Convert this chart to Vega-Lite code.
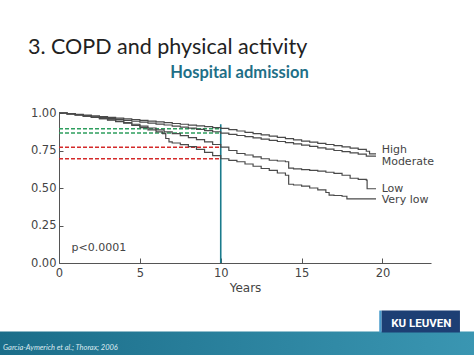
{
  "$schema": "https://vega.github.io/schema/vega-lite/v6.json",
  "width": 372,
  "height": 150,
  "autosize": "none",
  "padding": {"left": 59, "top": 113, "right": 43, "bottom": 92},
  "background": "white",
  "config": {"view": {"stroke": null}, "font": "DejaVu Sans"},
  "title": {
    "text": "3. COPD and physical activity",
    "anchor": "start",
    "frame": "group",
    "dx": -31,
    "offset": -10,
    "baseline": "alphabetic",
    "font": "Lato",
    "fontSize": 21.5,
    "fontWeight": "normal",
    "color": "#222222"
  },
  "datasets": {
    "km": [
      {"g":"High","t":0,"s":1},{"g":"High","t":0.5,"s":0.996},{"g":"High","t":1,"s":0.991},{"g":"High","t":1.5,"s":0.986},{"g":"High","t":2,"s":0.981},{"g":"High","t":2.5,"s":0.976},{"g":"High","t":3,"s":0.971},{"g":"High","t":3.5,"s":0.966},{"g":"High","t":4,"s":0.961},{"g":"High","t":4.5,"s":0.956},{"g":"High","t":5,"s":0.951},{"g":"High","t":5.5,"s":0.946},{"g":"High","t":6,"s":0.941},{"g":"High","t":6.5,"s":0.936},{"g":"High","t":7,"s":0.93},{"g":"High","t":7.5,"s":0.925},{"g":"High","t":8,"s":0.919},{"g":"High","t":8.5,"s":0.914},{"g":"High","t":9,"s":0.909},{"g":"High","t":9.5,"s":0.903},{"g":"High","t":10,"s":0.897},{"g":"High","t":10.5,"s":0.889},{"g":"High","t":11,"s":0.88},{"g":"High","t":11.5,"s":0.871},{"g":"High","t":12,"s":0.862},{"g":"High","t":12.5,"s":0.854},{"g":"High","t":13,"s":0.846},{"g":"High","t":13.5,"s":0.838},{"g":"High","t":14,"s":0.829},{"g":"High","t":14.5,"s":0.821},{"g":"High","t":15,"s":0.813},{"g":"High","t":15.5,"s":0.806},{"g":"High","t":16,"s":0.798},{"g":"High","t":16.5,"s":0.79},{"g":"High","t":17,"s":0.782},{"g":"High","t":17.5,"s":0.774},{"g":"High","t":18,"s":0.766},{"g":"High","t":18.5,"s":0.757},{"g":"High","t":19,"s":0.745},{"g":"High","t":19.2,"s":0.728},{"g":"High","t":19.6,"s":0.728},
      {"g":"Moderate","t":0,"s":1},{"g":"Moderate","t":0.5,"s":0.994},{"g":"Moderate","t":1,"s":0.988},{"g":"Moderate","t":1.5,"s":0.981},{"g":"Moderate","t":2,"s":0.975},{"g":"Moderate","t":2.5,"s":0.969},{"g":"Moderate","t":3,"s":0.963},{"g":"Moderate","t":3.5,"s":0.957},{"g":"Moderate","t":4,"s":0.951},{"g":"Moderate","t":4.5,"s":0.945},{"g":"Moderate","t":5,"s":0.939},{"g":"Moderate","t":5.5,"s":0.933},{"g":"Moderate","t":6,"s":0.926},{"g":"Moderate","t":6.5,"s":0.92},{"g":"Moderate","t":7,"s":0.913},{"g":"Moderate","t":7.5,"s":0.906},{"g":"Moderate","t":8,"s":0.899},{"g":"Moderate","t":8.5,"s":0.891},{"g":"Moderate","t":9,"s":0.883},{"g":"Moderate","t":9.5,"s":0.875},{"g":"Moderate","t":10,"s":0.866},{"g":"Moderate","t":10.5,"s":0.858},{"g":"Moderate","t":11,"s":0.85},{"g":"Moderate","t":11.5,"s":0.842},{"g":"Moderate","t":12,"s":0.834},{"g":"Moderate","t":12.5,"s":0.826},{"g":"Moderate","t":13,"s":0.818},{"g":"Moderate","t":13.5,"s":0.81},{"g":"Moderate","t":14,"s":0.802},{"g":"Moderate","t":14.5,"s":0.794},{"g":"Moderate","t":15,"s":0.786},{"g":"Moderate","t":15.5,"s":0.777},{"g":"Moderate","t":16,"s":0.768},{"g":"Moderate","t":16.5,"s":0.759},{"g":"Moderate","t":17,"s":0.75},{"g":"Moderate","t":17.5,"s":0.742},{"g":"Moderate","t":18,"s":0.734},{"g":"Moderate","t":18.5,"s":0.726},{"g":"Moderate","t":19,"s":0.712},{"g":"Moderate","t":19.6,"s":0.712},
      {"g":"Low","t":0,"s":1},{"g":"Low","t":0.5,"s":0.994},{"g":"Low","t":1,"s":0.987},{"g":"Low","t":1.5,"s":0.979},{"g":"Low","t":2,"s":0.971},{"g":"Low","t":2.5,"s":0.963},{"g":"Low","t":3,"s":0.955},{"g":"Low","t":3.5,"s":0.946},{"g":"Low","t":4,"s":0.936},{"g":"Low","t":4.5,"s":0.925},{"g":"Low","t":5,"s":0.913},{"g":"Low","t":5.5,"s":0.9},{"g":"Low","t":6,"s":0.887},{"g":"Low","t":6.5,"s":0.874},{"g":"Low","t":7,"s":0.862},{"g":"Low","t":7.5,"s":0.849},{"g":"Low","t":8,"s":0.836},{"g":"Low","t":8.5,"s":0.822},{"g":"Low","t":9,"s":0.807},{"g":"Low","t":9.5,"s":0.79},{"g":"Low","t":10,"s":0.772},{"g":"Low","t":10.5,"s":0.75},{"g":"Low","t":11,"s":0.73},{"g":"Low","t":11.5,"s":0.72},{"g":"Low","t":12,"s":0.708},{"g":"Low","t":12.5,"s":0.695},{"g":"Low","t":13,"s":0.685},{"g":"Low","t":13.5,"s":0.68},{"g":"Low","t":14,"s":0.675},{"g":"Low","t":14.2,"s":0.633},{"g":"Low","t":14.5,"s":0.628},{"g":"Low","t":15,"s":0.622},{"g":"Low","t":15.5,"s":0.617},{"g":"Low","t":16,"s":0.612},{"g":"Low","t":16.5,"s":0.605},{"g":"Low","t":17,"s":0.598},{"g":"Low","t":17.5,"s":0.585},{"g":"Low","t":18,"s":0.565},{"g":"Low","t":18.5,"s":0.558},{"g":"Low","t":19,"s":0.553},{"g":"Low","t":19.05,"s":0.495},{"g":"Low","t":19.6,"s":0.495},
      {"g":"Very low","t":0,"s":1},{"g":"Very low","t":0.5,"s":0.994},{"g":"Very low","t":1,"s":0.987},{"g":"Very low","t":1.5,"s":0.979},{"g":"Very low","t":2,"s":0.971},{"g":"Very low","t":2.5,"s":0.962},{"g":"Very low","t":3,"s":0.953},{"g":"Very low","t":3.5,"s":0.943},{"g":"Very low","t":4,"s":0.932},{"g":"Very low","t":4.5,"s":0.918},{"g":"Very low","t":5,"s":0.903},{"g":"Very low","t":5.5,"s":0.888},{"g":"Very low","t":6,"s":0.874},{"g":"Very low","t":6.4,"s":0.862},{"g":"Very low","t":6.6,"s":0.83},{"g":"Very low","t":6.8,"s":0.808},{"g":"Very low","t":7,"s":0.8},{"g":"Very low","t":7.5,"s":0.789},{"g":"Very low","t":8,"s":0.776},{"g":"Very low","t":8.5,"s":0.758},{"g":"Very low","t":9,"s":0.738},{"g":"Very low","t":9.5,"s":0.716},{"g":"Very low","t":10,"s":0.695},{"g":"Very low","t":10.5,"s":0.684},{"g":"Very low","t":11,"s":0.675},{"g":"Very low","t":11.5,"s":0.66},{"g":"Very low","t":12,"s":0.645},{"g":"Very low","t":12.5,"s":0.63},{"g":"Very low","t":13,"s":0.618},{"g":"Very low","t":13.5,"s":0.6},{"g":"Very low","t":14,"s":0.585},{"g":"Very low","t":14.2,"s":0.525},{"g":"Very low","t":14.5,"s":0.52},{"g":"Very low","t":15,"s":0.512},{"g":"Very low","t":15.5,"s":0.5},{"g":"Very low","t":16,"s":0.487},{"g":"Very low","t":16.5,"s":0.47},{"g":"Very low","t":16.7,"s":0.453},{"g":"Very low","t":17,"s":0.45},{"g":"Very low","t":17.5,"s":0.445},{"g":"Very low","t":17.8,"s":0.428},{"g":"Very low","t":19.6,"s":0.428}
    ],
    "ref": [
      {"g":"High","t":0,"t2":10,"s":0.895},
      {"g":"Moderate","t":0,"t2":10,"s":0.866},
      {"g":"Low","t":0,"t2":10,"s":0.772},
      {"g":"Very low","t":0,"t2":10,"s":0.695}
    ],
    "lab": [
      {"g":"High","t":19.95,"s":0.752},
      {"g":"Moderate","t":19.95,"s":0.672},
      {"g":"Low","t":19.95,"s":0.495},
      {"g":"Very low","t":19.95,"s":0.418}
    ],
    "one": [{}]
  },
  "layer": [
    {
      "data": {"name": "ref"},
      "mark": {"type": "rule", "strokeDash": [4, 2], "strokeWidth": 1.5},
      "encoding": {
        "x": {"field": "t", "type": "quantitative",
          "scale": {"domain": [0, 23], "nice": false, "zero": false},
          "axis": {"values": [0, 5, 10, 15, 20], "tickCount": 10, "grid": false, "tickSize": -5, "tickColor": "#555555",
            "domainColor": "#555555", "labelFont": "DejaVu Sans", "labelFontSize": 11.5, "labelColor": "#444444",
            "labelPadding": 9, "labelOverlap": false, "title": "Years", "titleFont": "DejaVu Sans", "titleFontSize": 12, "titleFontWeight": "normal",
            "titleColor": "#444444", "titlePadding": 4, "labelFlush": false}},
        "x2": {"field": "t2"},
        "y": {"field": "s", "type": "quantitative",
          "scale": {"domain": [0, 1], "nice": false},
          "axis": {"values": [0, 0.25, 0.5, 0.75, 1], "tickCount": 10, "format": ".2f", "grid": false, "tickSize": -4, "tickColor": "#555555",
            "domainColor": "#555555", "labelFont": "DejaVu Sans", "labelFontSize": 11.5, "labelColor": "#444444",
            "labelPadding": 7, "labelOverlap": false, "title": null, "labelFlush": false}},
        "color": {"field": "g", "type": "nominal",
          "scale": {"domain": ["High", "Moderate", "Low", "Very low"], "range": ["#2e9e5e", "#2e9e5e", "#d42a2a", "#d42a2a"]},
          "legend": null}
      }
    },
    {
      "data": {"name": "one"},
      "mark": {"type": "rule", "color": "#1a7b8c", "strokeWidth": 1.6},
      "encoding": {
        "x": {"datum": 10, "type": "quantitative"},
        "y": {"datum": 0, "type": "quantitative"},
        "y2": {"datum": 0.925}
      }
    },
    {
      "data": {"name": "km"},
      "mark": {"type": "line", "interpolate": "step-after", "color": "#4a4a4a", "strokeWidth": 1.2},
      "encoding": {
        "x": {"field": "t", "type": "quantitative"},
        "y": {"field": "s", "type": "quantitative"},
        "detail": {"field": "g", "type": "nominal"}
      }
    },
    {
      "data": {"name": "lab"},
      "mark": {"type": "text", "align": "left", "baseline": "middle", "font": "DejaVu Sans", "fontSize": 11, "color": "#444444"},
      "encoding": {
        "x": {"field": "t", "type": "quantitative"},
        "y": {"field": "s", "type": "quantitative"},
        "text": {"field": "g"}
      }
    },
    {
      "data": {"name": "one"},
      "mark": {"type": "text", "align": "left", "baseline": "alphabetic", "font": "DejaVu Sans", "fontSize": 11, "color": "#444444", "text": "p<0.0001"},
      "encoding": {
        "x": {"datum": 0.78, "type": "quantitative"},
        "y": {"datum": 0.08, "type": "quantitative"}
      }
    },
    {
      "data": {"name": "one"},
      "mark": {"type": "text", "align": "center", "baseline": "alphabetic", "font": "Lato", "fontSize": 16.5, "fontWeight": "bold", "color": "#1f6f87", "text": "Hospital admission"},
      "encoding": {
        "x": {"datum": 11.16, "type": "quantitative"},
        "y": {"datum": 1.233, "type": "quantitative"}
      }
    },
    {
      "data": {"name": "one"},
      "mark": {"type": "rect", "color": {"gradient": "linear", "x1": 0, "y1": 0, "x2": 1, "y2": 0,
        "stops": [{"offset": 0, "color": "#1b6d89"}, {"offset": 1, "color": "#3a96b2"}]}},
      "encoding": {
        "x": {"datum": -3.7, "type": "quantitative"},
        "x2": {"datum": 25.7},
        "y": {"datum": -0.457, "type": "quantitative"},
        "y2": {"datum": -0.62}
      }
    },
    {
      "data": {"name": "one"},
      "mark": {"type": "text", "align": "left", "baseline": "alphabetic", "font": "Lato", "fontSize": 7.5, "fontStyle": "italic", "color": "#dbeaf0", "text": "Garcia-Aymerich et al.; Thorax; 2006"},
      "encoding": {
        "x": {"datum": -3.46, "type": "quantitative"},
        "y": {"datum": -0.58, "type": "quantitative"}
      }
    },
    {
      "data": {"name": "one"},
      "mark": {"type": "rect", "color": "#4a9ccc"},
      "encoding": {
        "x": {"datum": 19.8, "type": "quantitative"},
        "x2": {"datum": 19.95},
        "y": {"datum": -0.317, "type": "quantitative"},
        "y2": {"datum": -0.463}
      }
    },
    {
      "data": {"name": "one"},
      "mark": {"type": "rect", "color": "#1d3f74"},
      "encoding": {
        "x": {"datum": 19.95, "type": "quantitative"},
        "x2": {"datum": 24.79},
        "y": {"datum": -0.317, "type": "quantitative"},
        "y2": {"datum": -0.463}
      }
    },
    {
      "data": {"name": "one"},
      "mark": {"type": "text", "align": "center", "baseline": "alphabetic", "font": "Roboto", "fontSize": 11.5, "fontWeight": "bold", "color": "white", "text": "KU LEUVEN"},
      "encoding": {
        "x": {"datum": 22.4, "type": "quantitative"},
        "y": {"datum": -0.427, "type": "quantitative"}
      }
    }
  ]
}
